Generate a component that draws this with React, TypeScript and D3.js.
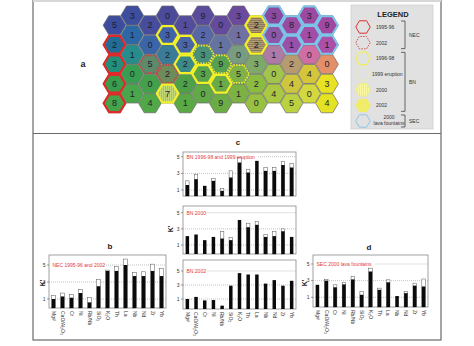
import React from 'react';
import * as d3 from 'd3';

// ---------- Panel a : SOM hexagon map ----------
const hexValues: number[][] = [
  [5, 2, 3, 6, 8],
  [3, 1, 1, 0, 1],
  [2, 0, 5, 0, 4],
  [0, 3, 2, 2, 7],
  [1, 3, 2, 2, 1],
  [9, 2, 3, 3, 0],
  [0, 1, 9, 1, 9],
  [3, 1, 0, 5, 1],
  [2, 2, 3, 2, 0],
  [3, 0, 1, 0, 4],
  [8, 1, 2, 4, 5],
  [3, 1, 0, 4, 0],
  [9, 1, 0, 3, 4],
];
const hexColors: string[][] = [
  ['#3c4d9d', '#226d96', '#20907a', '#3a9d4c', '#46a34a'],
  ['#3e4e9e', '#2c68a6', '#268c8c', '#379e52', '#49a64a'],
  ['#474d9c', '#3a66a8', '#5e8a6c', '#45a04b', '#52a748'],
  ['#4c4b9b', '#4262aa', '#3a7b98', '#6d8c5a', '#a8c455'],
  ['#544c9c', '#4a66a6', '#3c8a88', '#4fa149', '#5aa945'],
  ['#5b4b9c', '#5868a6', '#4a9078', '#5aa34a', '#62aa47'],
  ['#634b9d', '#6474a2', '#57a052', '#68aa48', '#6cac45'],
  ['#6b4a9d', '#7070a2', '#789c80', '#80b048', '#7cb143'],
  ['#b09a72', '#b49e76', '#7fa968', '#8cbb42', '#98c141'],
  ['#8a4aa0', '#8c58a8', '#b07aa6', '#a2c44c', '#aac842'],
  ['#984ba0', '#9a4fa8', '#b89a70', '#cdc63e', '#bcd140'],
  ['#9c4aa0', '#a24ea8', '#d06ea4', '#d5c53a', '#d2d83e'],
  ['#a248a0', '#aa50a8', '#e3906a', '#e9e222', '#e5e224'],
];
// R red solid, r red dashed, Y yellow solid, y yellow dashed, B blue
const hexBorders: string[][] = [
  ['', 'R', 'R', 'R', 'R'],
  ['', '', '', '', ''],
  ['', '', 'r', '', ''],
  ['', 'Y', '', 'r', 'Y'],
  ['', 'Y', 'Y', '', ''],
  ['', '', 'y', 'Y', ''],
  ['', '', 'y', 'Y', ''],
  ['', '', '', 'y', ''],
  ['Y', 'Y', '', '', ''],
  ['B', 'B', '', '', ''],
  ['B', 'B', '', '', ''],
  ['B', 'B', '', '', ''],
  ['B', 'B', '', '', ''],
];
const hexHatch: string[][] = [
  ['', '', '', '', ''], ['', '', '', '', ''], ['', '', '', '', ''],
  ['', '', '', '', 'v'], ['', '', '', '', ''], ['', '', '', '', ''],
  ['', '', '', '', ''], ['', '', '', '', ''], ['h', 'h', '', '', ''],
  ['', '', '', '', ''], ['', '', '', '', ''], ['', '', '', '', ''], ['', '', '', '', ''],
];

const legendItems = [
  { label: '1995-96', kind: 'R' },
  { label: '2002', kind: 'r' },
  { label: '1996-98', kind: 'Y' },
  { label: '1999 eruption', kind: 'y' },
  { label: '2000', kind: 'Yh' },
  { label: '2002', kind: 'Yf' },
  { label: '2000|lava fountains', kind: 'B' },
];
const legendGroups = [
  { label: 'NEC', from: 0, to: 1 },
  { label: 'BN', from: 2, to: 5 },
  { label: 'SEC', from: 6, to: 6 },
];

// ---------- Panels b, c, d : bar charts ----------
const categories = ['Mg#', 'CaO/Al₂O₃', 'Cr', 'Ni', 'Rb/Nb', 'SiO₂', 'K₂O', 'Th', 'La', 'Nb', 'Nd', 'Zr', 'Yb'];
const yTicks = [1, 3, 5];

const necBlack = [1.0, 1.3, 1.15, 1.7, 0.6, 2.5, 4.3, 4.3, 5.0, 3.7, 3.7, 4.3, 3.7];
const necWhite = [1.4, 1.7, 1.55, 2.1, 1.2, 3.3, 4.4, 4.8, 5.7, 4.1, 4.2, 5.1, 4.6];

const bn9699Black = [1.6, 2.3, 1.5, 2.1, 0.9, 2.5, 4.3, 3.1, 4.5, 3.3, 3.3, 4.0, 3.7];
const bn9699White = [2.1, 2.9, 1.5, 2.4, 1.2, 3.3, 4.9, 3.5, 4.5, 3.7, 3.7, 4.4, 4.2];

const bn2000Black = [2.1, 2.3, 1.6, 2.0, 1.8, 1.6, 4.1, 3.2, 3.5, 2.0, 2.1, 2.7, 2.0];
const bn2000White = [2.1, 2.3, 1.6, 2.0, 2.7, 1.9, 4.1, 3.7, 3.9, 2.3, 2.7, 3.0, 2.0];

const bn2002Black = [1.0, 1.3, 0.8, 0.85, 0.05, 2.9, 4.7, 4.5, 4.5, 3.2, 3.7, 2.9, 3.6];
const bn2002White = [1.0, 1.3, 0.8, 0.85, 0.05, 2.9, 4.7, 4.5, 4.5, 3.2, 3.7, 2.9, 3.6];

const secBlack = [2.5, 3.0, 2.2, 2.55, 3.15, 1.3, 4.1, 1.9, 2.8, 1.15, 1.5, 2.4, 2.3];
const secWhite = [2.5, 3.15, 2.5, 2.75, 3.5, 1.7, 4.5, 2.1, 3.1, 1.15, 1.7, 2.7, 3.2];

const FONT = '"Liberation Sans", Arial, sans-serif';

function hexPath(cx: number, cy: number, R: number, h: number) {
  const pts = [
    [cx - R, cy], [cx - R / 2, cy - h], [cx + R / 2, cy - h],
    [cx + R, cy], [cx + R / 2, cy + h], [cx - R / 2, cy + h],
  ];
  return d3.line()(pts as [number, number][]) + 'Z';
}

function borderStyle(kind: string) {
  switch (kind) {
    case 'R': return { stroke: '#e02a2a', dash: undefined, w: 2.2 };
    case 'r': return { stroke: '#c84040', dash: '1.5,1.2', w: 1.6 };
    case 'Y': return { stroke: '#f2f028', dash: undefined, w: 2.2 };
    case 'y': return { stroke: '#f2f028', dash: '1.5,1.2', w: 1.6 };
    case 'B': return { stroke: '#7cc4e8', dash: undefined, w: 2.0 };
    default: return null;
  }
}

function HexMap() {
  const xs = d3.scaleLinear().domain([0, 12]).range([114.5, 327]);
  const ys = d3.scaleLinear().domain([0, 4]).range([15.5, 93.5]);
  const R = 11.4, h = 9.5;
  const cells: { c: number; r: number; cx: number; cy: number }[] = [];
  hexValues.forEach((col, c) => col.forEach((_, r) => {
    const cx = xs(c);
    const cy = ys(r) + (c % 2 === 0 ? 9.75 : 0);
    cells.push({ c, r, cx, cy });
  }));
  return (
    <g>
      {cells.map(({ c, r, cx, cy }) => (
        <path key={`f${c}-${r}`} d={hexPath(cx, cy, R, h)} fill={hexColors[c][r]} stroke="#6a6a6a" strokeWidth={0.7} />
      ))}
      {cells.filter(d => hexHatch[d.c][d.r]).map(({ c, r, cx, cy }) => (
        <path key={`h${c}-${r}`} d={hexPath(cx, cy, R, h)}
          fill={hexHatch[c][r] === 'v' ? 'url(#hatchV)' : 'url(#hatchH)'} stroke="none" />
      ))}
      {cells.filter(d => hexBorders[d.c][d.r]).map(({ c, r, cx, cy }) => {
        const s = borderStyle(hexBorders[c][r])!;
        return (
          <path key={`b${c}-${r}`} d={hexPath(cx, cy, R - 0.6, h - 0.6)} fill="none"
            stroke={s.stroke} strokeWidth={s.w} strokeDasharray={s.dash} strokeLinejoin="round" />
        );
      })}
      {cells.map(({ c, r, cx, cy }) => (
        <text key={`t${c}-${r}`} x={cx} y={cy + 3.2} textAnchor="middle" fontSize={9}
          fontFamily={FONT} fill="#1e1e2a">{hexValues[c][r]}</text>
      ))}
    </g>
  );
}

function Legend() {
  const x0 = 351, y0 = 5, w = 82, hgt = 124;
  const iy = d3.scalePoint().domain(legendItems.map((_, i) => String(i))).range([27, 121]);
  const hx = 363;
  return (
    <g fontFamily={FONT}>
      <rect x={x0} y={y0} width={w} height={hgt} fill="#e1e1e1" stroke="#cfcfcf" strokeWidth={0.8} />
      <text x={393} y={17} textAnchor="middle" fontSize={7.5} fontWeight="bold" fill="#222">LEGEND</text>
      {legendItems.map((it, i) => {
        const cy = iy(String(i))!;
        const p = hexPath(hx, cy, 7.2, 6.2);
        let fill = 'none', stroke = '#e03030', dash: string | undefined, sw = 1;
        if (it.kind === 'r') { dash = '1.5,1.2'; stroke = '#d05050'; }
        if (it.kind === 'Y') { stroke = '#f0ee60'; sw = 1.2; }
        if (it.kind === 'y') { stroke = '#f2f0a0'; dash = '1.5,1.2'; }
        if (it.kind === 'Yh') { stroke = '#f0ee60'; fill = '#f2ef70'; }
        if (it.kind === 'Yf') { stroke = '#f0ee60'; fill = '#f0ec68'; }
        if (it.kind === 'B') { stroke = '#8cc6e6'; }
        const parts = it.label.split('|');
        return (
          <g key={i}>
            <path d={p} fill={fill} stroke={stroke} strokeWidth={sw} strokeDasharray={dash} />
            {it.kind === 'Yh' && <path d={p} fill="url(#hatchL)" stroke="none" />}
            {parts.length === 1 ? (
              <text x={it.label.length > 8 ? 372 : 376} y={cy + 2} fontSize={5} fill="#333">{it.label}</text>
            ) : (
              <g>
                <text x={389} y={cy - 2.5} textAnchor="middle" fontSize={5} fill="#333">{parts[0]}</text>
                <text x={389} y={cy + 3.5} textAnchor="middle" fontSize={5} fill="#333">{parts[1]}</text>
              </g>
            )}
          </g>
        );
      })}
      {legendGroups.map((g) => {
        const a = iy(String(g.from))! - 6, b = iy(String(g.to))! + 6;
        return (
          <g key={g.label}>
            <path d={`M401,${a}H405V${b}H401`} fill="none" stroke="#444" strokeWidth={0.8} />
            <text x={409} y={(a + b) / 2 + 2} fontSize={5} fill="#333">{g.label}</text>
          </g>
        );
      })}
    </g>
  );
}

type PanelProps = {
  left: number; right: number; top: number; bottom: number; y1: number; y5: number;
  title: string; black: number[]; white: number[]; showCats: boolean;
};

function BarPanel({ left, right, top, bottom, y1, y5, title, black, white, showCats }: PanelProps) {
  const y = d3.scaleLinear().domain([1, 5]).range([y1, y5]);
  const x = d3.scaleBand().domain(categories).range([left, right]).paddingInner(0.6).paddingOuter(0.3);
  const bw = x.bandwidth();
  const titleW = title.length * 2.5 + 5;
  return (
    <g fontFamily={FONT}>
      <rect x={left} y={top} width={right - left} height={bottom - top} fill="#fff" stroke="#8a8a8a" strokeWidth={0.8} />
      {yTicks.map(t => (
        <g key={t}>
          <line x1={t === 5 ? left + titleW : left} x2={right} y1={y(t)} y2={y(t)} stroke="#9a9a9a" strokeWidth={0.6} strokeDasharray="1,1" />
          <line x1={left - 2} x2={left} y1={y(t)} y2={y(t)} stroke="#555" strokeWidth={0.6} />
          <text x={left - 3.5} y={y(t) + 1.8} textAnchor="end" fontSize={5} fill="#333">{t}</text>
        </g>
      ))}
      {categories.map((c, i) => (
        <g key={c}>
          {white[i] > black[i] && (
            <rect x={x(c)} y={y(white[i])} width={bw} height={bottom - y(white[i])} fill="#fff" stroke="#555" strokeWidth={0.5} />
          )}
          <rect x={x(c)} y={y(black[i])} width={bw} height={bottom - y(black[i])} fill="#0a0a0a" />
          {showCats && (
            <text transform={`translate(${x(c)! + bw / 2 - 1.7},${bottom + 3}) rotate(90)`} fontSize={5} fill="#333">{c}</text>
          )}
        </g>
      ))}
      <text x={left + 3.5} y={y(5) + 1.8} fontSize={5} fill="#e03a3a">{title}</text>
    </g>
  );
}

export default function App() {
  return (
    <svg width={474} height={346} style={{ position: 'absolute', left: 0, top: 0, background: '#fff' }}>
      <defs>
        <pattern id="hatchV" width={2} height={2} patternUnits="userSpaceOnUse">
          <rect x={0} y={0} width={0.8} height={2} fill="#d8e890" opacity={0.7} />
        </pattern>
        <pattern id="hatchH" width={2} height={2} patternUnits="userSpaceOnUse">
          <rect x={0} y={0} width={2} height={0.7} fill="#5a4a30" opacity={0.6} />
        </pattern>
        <pattern id="hatchL" width={2} height={2} patternUnits="userSpaceOnUse">
          <rect x={0} y={0} width={0.8} height={2} fill="#fffbc0" opacity={0.8} />
        </pattern>
      </defs>
      <rect x={0} y={0} width={474} height={346} fill="#fff" />
      {/* frames */}
      <rect x={33} y={-1} width={408} height={341} fill="none" stroke="#6a6a6a" strokeWidth={1.2} />
      <line x1={33} x2={441} y1={133.5} y2={133.5} stroke="#6a6a6a" strokeWidth={1.2} />
      <rect x={33} y={0} width={408} height={2} fill="#d8d8d8" />

      <text x={83} y={67} textAnchor="middle" fontSize={9} fontWeight="bold" fontFamily={FONT} fill="#222">a</text>
      <HexMap />
      <Legend />

      <text x={238} y={145} textAnchor="middle" fontSize={8} fontWeight="bold" fontFamily={FONT} fill="#222">c</text>
      <text x={110} y={249} textAnchor="middle" fontSize={8} fontWeight="bold" fontFamily={FONT} fill="#222">b</text>
      <text x={369} y={250} textAnchor="middle" fontSize={8} fontWeight="bold" fontFamily={FONT} fill="#222">d</text>

      <text transform="translate(45,283) rotate(-90)" textAnchor="middle" fontSize={7} fontWeight="bold" fontFamily={FONT} fill="#222">K'</text>
      <text transform="translate(173,229) rotate(-90)" textAnchor="middle" fontSize={7} fontWeight="bold" fontFamily={FONT} fill="#222">K'</text>
      <text transform="translate(307,283) rotate(-90)" textAnchor="middle" fontSize={7} fontWeight="bold" fontFamily={FONT} fill="#222">K'</text>

      <BarPanel left={49} right={166} top={255} bottom={308} y1={299} y5={265}
        title="NEC 1995-96 and 2002" black={necBlack} white={necWhite} showCats />
      <BarPanel left={183} right={296} top={152} bottom={196} y1={190} y5={156.7}
        title="BN 1996-98 and 1999 eruption" black={bn9699Black} white={bn9699White} showCats={false} />
      <BarPanel left={183} right={296} top={206} bottom={254} y1={245} y5={212.7}
        title="BN 2000" black={bn2000Black} white={bn2000White} showCats={false} />
      <BarPanel left={183} right={296} top={260} bottom={309} y1={299} y5={271}
        title="BN 2002" black={bn2002Black} white={bn2002White} showCats />
      <BarPanel left={313} right={428} top={255} bottom={307} y1={297.3} y5={264}
        title="SEC 2000 lava fountains" black={secBlack} white={secWhite} showCats />
    </svg>
  );
}
